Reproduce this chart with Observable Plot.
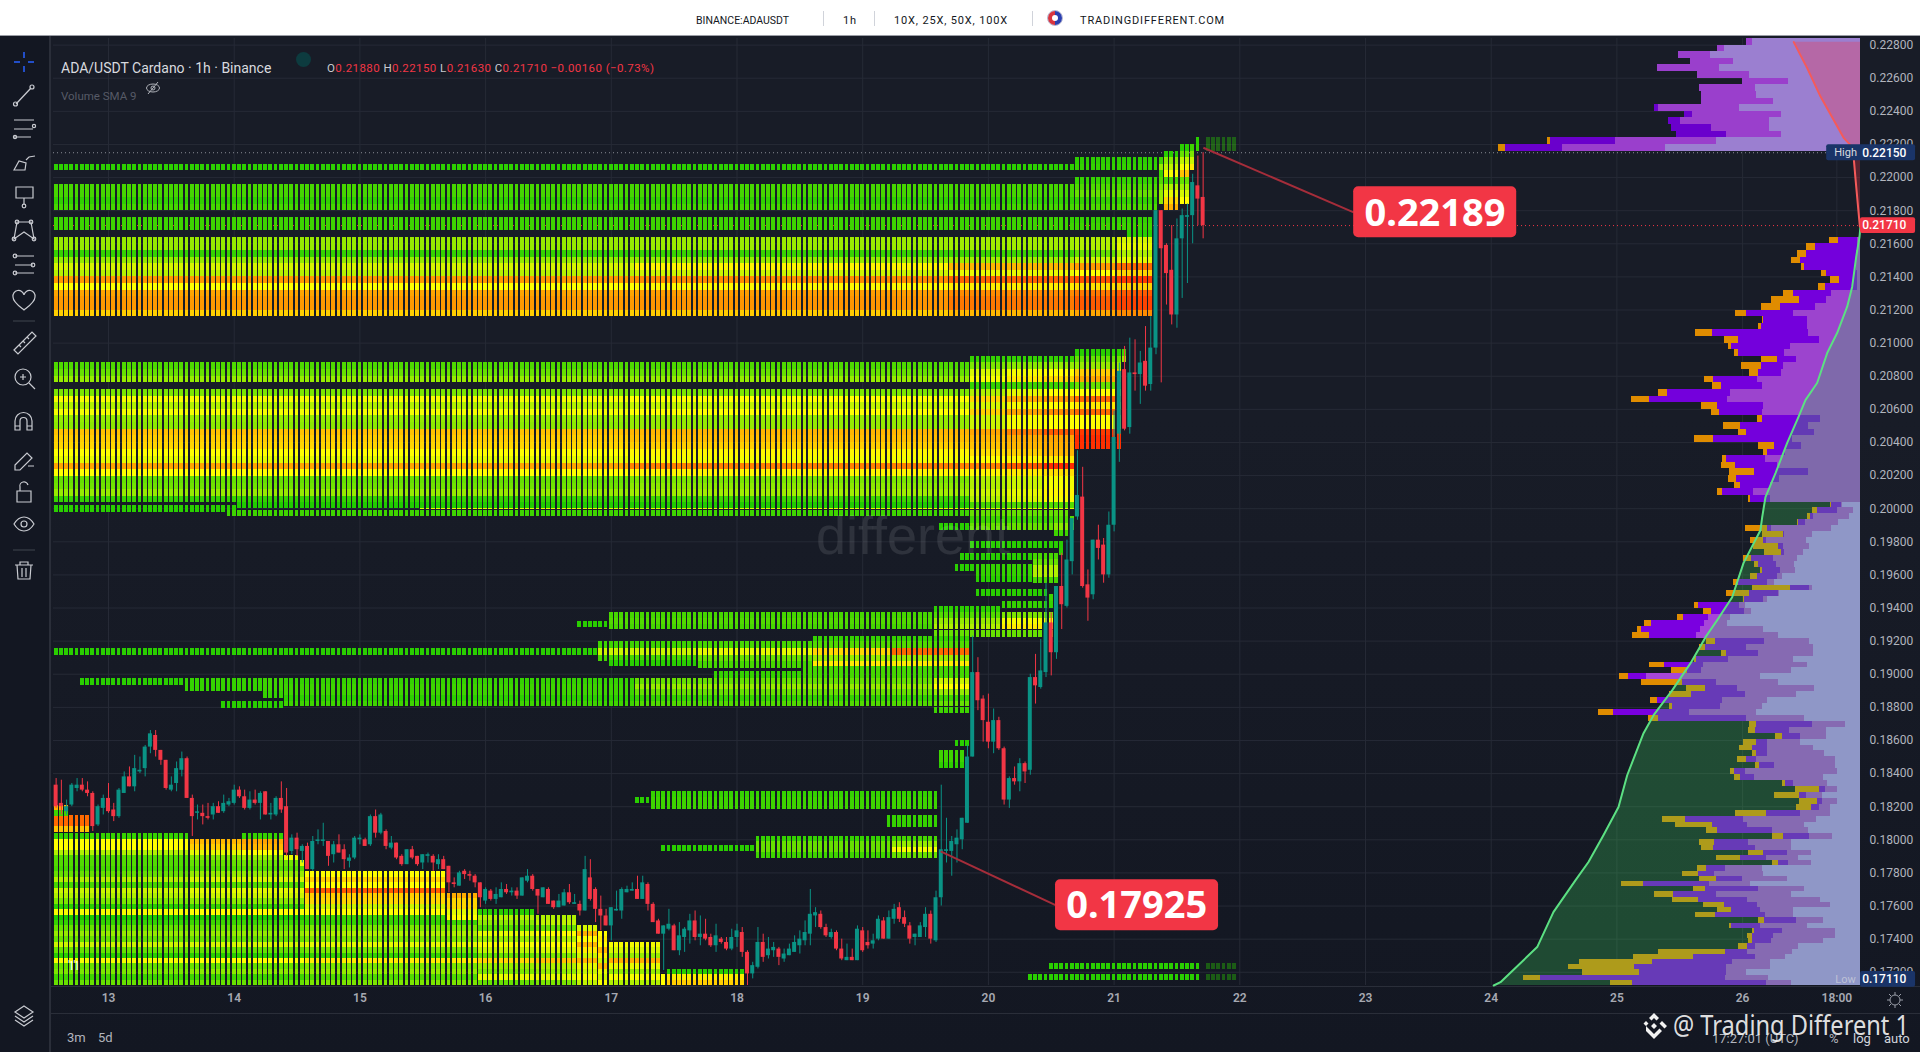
<!DOCTYPE html>
<html><head><meta charset="utf-8">
<script src="https://cdn.jsdelivr.net/npm/d3@7"></script>
<script src="https://cdn.jsdelivr.net/npm/@observablehq/plot@0.6"></script>
<style>
html,body{margin:0;padding:0;width:1920px;height:1052px;overflow:hidden;background:linear-gradient(#181c27 0,#181c27 40%,#131722 100%);font-family:Roboto,sans-serif}
.abs{position:absolute;white-space:nowrap}
#head{left:0;top:0;width:1920px;height:35px;background:#fff;border-bottom:1px solid #9a9da5;z-index:5}
#head span{position:absolute;top:14px;font-size:11px;letter-spacing:.85px;color:#131722}
#head i{position:absolute;top:11px;width:1px;height:15px;background:#d0d3da}
#tools{left:0;top:36px;width:37px;height:1016px;background:#131722;z-index:4}
#vsep{left:37px;top:36px;width:14px;height:1016px;background:#131722;border-right:2px solid #2a2e39;box-sizing:border-box;z-index:4}
.hl{left:51px;width:1869px;height:1px;background:#2a2e39;z-index:1}
</style></head><body>
<div class="abs" id="head">
<span style="left:696px;letter-spacing:0;font-size:10.500px">BINANCE:ADAUSDT</span><i style="left:823px"></i>
<span style="left:843px">1h</span><i style="left:874px"></i>
<span style="left:894px">10X, 25X, 50X, 100X</span><i style="left:1032px"></i>
<svg style="position:absolute;left:1047px;top:10px" width="16" height="16" viewBox="0 0 16 16"><circle cx="8" cy="8" r="7.5" fill="#e8e8f4" stroke="#8a8ab0" stroke-width=".6"/><path d="M8 1a7 7 0 0 0 0 14z" fill="#d8343f"/><path d="M8 1a7 7 0 0 1 0 14z" fill="#2a3fb0"/><circle cx="8" cy="8" r="3" fill="#fff"/></svg>
<span style="left:1080px">TRADINGDIFFERENT.COM</span>
</div>
<div class="abs" id="tools"></div>
<div class="abs" id="vsep"></div>
<div class="abs hl" style="top:986px"></div>
<div class="abs hl" style="top:1013px"></div>
<svg class="abs" style="left:0;top:0;z-index:6" width="48" height="1052" fill="none" stroke="#c9cbd1" stroke-width="1.2">
<path d="M24 52v6M24 66v6M14 62h6M28 62h6" stroke="#2962ff" stroke-width="1.5"/>
<path d="M16 104L31 88"/><circle cx="15.500" cy="104" r="2"/><circle cx="32" cy="87" r="2"/>
<path d="M14 120h20M14 129h19M14 137h17"/><circle cx="34" cy="126" r="1.6"/><circle cx="15" cy="137" r="1.6"/>
<path d="M14 170l5-9 7 2-1 7zM26 160l3-3 6-1"/>
<path d="M16 187h17v11H16zM24 198v6"/><circle cx="24" cy="206" r="1.8"/>
<path d="M17 222l-3 17 10-7 10 7-3-17zM17 222l14 0"/><circle cx="17" cy="222" r="1.8"/><circle cx="31" cy="222" r="1.8"/><circle cx="14" cy="239" r="1.8"/><circle cx="34" cy="239" r="1.8"/>
<path d="M15 256h19M15 265h18M15 273h19"/><circle cx="15" cy="256" r="1.8"/><circle cx="33" cy="265" r="1.8"/><circle cx="15" cy="273" r="1.8"/>
<path d="M24 310c-5-4-11-8-11-13a5.500 5.500 0 0 1 11-2a5.500 5.500 0 0 1 11 2c0 5-6 9-11 13z"/>
<path d="M13 321h22" stroke="#3a3e49"/>
<path d="M14 350l18-18 4 4-18 18zM19 345l2 2M23 341l2 2M27 337l2 2"/>
<circle cx="23" cy="377" r="8"/><path d="M29 383l6 6M20 377h6M23 374v6"/>
<path d="M15 430v-9a8 8 0 0 1 17 0v9h-5v-9a3 3 0 0 0-7 0v9zM15 426h5M27 426h5"/>
<path d="M15 465l12-12 5 5-12 12h-5zM28 466h6"/>
<path d="M17 491h14v11H17zM20 491v-4a4 4 0 0 1 8-2"/>
<path d="M14 524c3-5 7-7 10-7s7 2 10 7c-3 5-7 7-10 7s-7-2-10-7z"/><circle cx="24" cy="524" r="3"/>
<path d="M13 550h22" stroke="#3a3e49"/>
<path d="M15 565h18M20 565v-3h8v3M17 565l1 14h12l1-14M22 568v9M26 568v9"/>
<path d="M24 1006l9 6-9 6-9-6zM15 1016l9 6 9-6M15 1020l9 6 9-6"/>
</svg>
<div class="abs" style="left:61px;top:60px;font-size:14px;color:#d8dadf;z-index:6">ADA/USDT Cardano · 1h · Binance</div>
<div class="abs" style="left:296px;top:52px;width:15px;height:15px;border-radius:50%;background:#0d3b3f;z-index:6"></div>
<div class="abs" style="left:327px;top:61px;font-size:11.500px;letter-spacing:.42px;color:#f23645;z-index:6"><span style="color:#c8cad0">O</span>0.21880 <span style="color:#c8cad0">H</span>0.22150 <span style="color:#c8cad0">L</span>0.21630 <span style="color:#c8cad0">C</span>0.21710 −0.00160 (−0.73%)</div>
<div class="abs" style="left:61px;top:89px;font-size:11.500px;color:#565a66;z-index:6">Volume SMA 9</div>
<svg class="abs" style="left:145px;top:80px;z-index:6" width="16" height="16" fill="none" stroke="#b0b3ba" stroke-width="1"><ellipse cx="8" cy="8" rx="6.500" ry="4"/><circle cx="8" cy="8" r="2"/><path d="M3 14L13 2"/></svg>
<div class="abs" style="left:67px;top:1030px;font-size:13px;color:#b2b5be;z-index:6">3m</div>
<div class="abs" style="left:98px;top:1030px;font-size:13px;color:#b2b5be;z-index:6">5d</div>
<div class="abs" style="left:1712px;top:1031px;font-size:13px;color:#b2b5be;z-index:6">17:27:01 (UTC)</div>
<div class="abs" style="left:1829px;top:1031px;font-size:13px;color:#b2b5be;z-index:6">%</div>
<div class="abs" style="left:1853px;top:1031px;font-size:13px;color:#d1d4dc;z-index:6">log</div>
<div class="abs" style="left:1884px;top:1031px;font-size:13px;color:#d1d4dc;z-index:6">auto</div>
<svg class="abs" style="left:1884px;top:990px;z-index:6" width="22" height="20" fill="none" stroke="#9a9ea8" stroke-width="1"><circle cx="11" cy="10" r="5"/><path d="M11 2v3M11 15v3M3 10h3M16 10h3M5 4l2 2M15 14l2 2M5 16l2-2M15 6l2-2"/></svg>
<svg class="abs" style="left:1640px;top:1012px;z-index:7" width="28" height="28" fill="#f2f2f2"><path d="M14 1l5 5-2.500 2.500L14 6 11.500 8.500 9 6zM6 9l2.500 2.500L6 14l-2.500-2.500 0 0L1 14l2.500-2.500zM22 9l5 5-2.500 2.500L22 14l-2.500-2.500zM14 11l3 3-3 3-3-3zM6 14l2.500 2.500L11.500 19.500 14 22l2.500-2.500 3-3L22 19l-8 8-8-8z"/></svg>
<svg class="abs" style="left:1670px;top:1008px;z-index:7" width="245" height="36"><text x="3" y="27" font-size="27" font-family="Noto Sans" fill="#f2f2f2" fill-opacity=".93" textLength="236" lengthAdjust="spacingAndGlyphs">@ Trading Different 1</text></svg>
<div id="chart" class="abs" style="left:0;top:0;z-index:2"></div>
<script>
// ---- price axis and time axis ----
const priceTicks = d3.range(86, 115).map(i => i * 0.002);
const dayTicks = [13,14,15,16,17,18,19,20,21,22,23,24,25,26,26.75];
const dayDomain = [12.5624, 26.938];
const priceDomain = [0.1712, 0.2284];

// ---- candles, hourly from hour -10 of day 13, in units of 0.0001 ----
const firstHour = -10;
const candleHigh = [1837,1836,1824,1834,1837,1837,1835,1829,1821,1827,
1834,1822,1831,1841,1844,1851,1850,1857,1866,1866,
1854,1848,1838,1847,1853,1850,1827,1821,1821,1822,
1822,1823,1827,1825,1833,1832,1830,1829,1830,1829,
1829,1822,1826,1835,1831,1803,1804,1797,1798,1802,
1806,1810,1799,1799,1803,1797,1791,1802,1803,1801,
1815,1818,1816,1806,1802,1798,1791,1794,1796,1790,
1791,1792,1791,1791,1790,1784,1777,1781,1782,1781,
1779,1774,1771,1770,1771,1774,1773,1771,1771,1777,
1782,1779,1770,1771,1771,1763,1767,1770,1773,1767,
1763,1790,1788,1771,1766,1758,1759,1769,1771,1772,
1774,1778,1778,1774,1762,1752,1748,1758,1749,1750,
1747,1755,1757,1754,1752,1743,1749,1741,1741,1746,
1749,1747,1733,1726,1747,1743,1741,1738,1735,1734,
1737,1742,1745,1751,1770,1759,1757,1749,1746,1745,
1740,1737,1734,1748,1747,1745,1743,1754,1753,1757,
1761,1762,1757,1750,1743,1750,1759,1757,1769,1833,
1813,1802,1806,1813,1857,1923,1910,1887,1888,1879,
1874,1856,1838,1844,1849,1847,1900,1912,1921,1955,
1937,1953,1973,1981,1994,2035,2025,1963,1981,1990,
1982,1998,2059,2088,2098,2103,2102,2095,2110,2116,
2180,2180,2160,2171,2175,2181,2184,2202,2213,2215];
const candleLow = [1819,1815,1815,1820,1829,1829,1826,1805,1808,1815,
1816,1811,1813,1828,1832,1829,1840,1838,1852,1850,
1845,1830,1829,1829,1838,1825,1802,1812,1809,1812,
1812,1816,1816,1820,1821,1825,1818,1818,1821,1812,
1815,1812,1814,1816,1790,1791,1790,1786,1782,1781,
1797,1796,1784,1786,1792,1782,1783,1788,1797,1796,
1796,1801,1803,1794,1794,1788,1784,1785,1788,1784,
1782,1786,1781,1782,1782,1768,1771,1772,1776,1775,
1771,1759,1761,1763,1761,1765,1767,1766,1764,1766,
1774,1769,1755,1765,1761,1758,1759,1760,1761,1761,
1754,1757,1763,1750,1745,1748,1739,1757,1752,1768,
1769,1764,1764,1757,1750,1743,1721,1745,1733,1730,
1732,1737,1739,1736,1739,1735,1732,1737,1733,1733,
1735,1729,1712,1716,1722,1726,1728,1729,1724,1726,
1730,1732,1731,1736,1736,1747,1746,1741,1740,1733,
1727,1727,1727,1727,1732,1734,1734,1739,1740,1740,
1749,1750,1747,1737,1736,1741,1741,1737,1738,1760,
1786,1778,1786,1794,1810,1850,1878,1859,1855,1852,
1854,1821,1819,1833,1829,1834,1839,1882,1891,1898,
1899,1909,1927,1940,1960,1993,1952,1932,1945,1969,
1955,1958,1986,2028,2047,2045,2071,2063,2071,2071,
2093,2076,2123,2111,2109,2127,2136,2160,2171,2163];
const candleOpen = [1833,1822,1817,1821,1831,1833,1830,1828,1809,1819,
1825,1818,1814,1828,1838,1832,1841,1843,1856,1863,
1854,1848,1830,1834,1842,1849,1825,1816,1816,1814,
1815,1820,1817,1821,1822,1830,1826,1819,1824,1822,
1829,1815,1815,1825,1820,1793,1801,1793,1796,1782,
1799,1799,1799,1791,1797,1794,1787,1789,1800,1800,
1797,1814,1804,1805,1795,1798,1790,1785,1794,1790,
1786,1790,1790,1785,1788,1784,1774,1772,1781,1779,
1778,1774,1763,1769,1764,1765,1770,1768,1769,1766,
1775,1778,1770,1765,1770,1763,1759,1760,1768,1761,
1761,1757,1777,1770,1758,1754,1748,1757,1757,1768,
1769,1770,1764,1773,1761,1751,1743,1746,1748,1733,
1741,1745,1751,1741,1743,1741,1736,1740,1738,1734,
1741,1744,1732,1719,1723,1738,1730,1733,1734,1728,
1730,1732,1736,1739,1743,1754,1755,1747,1741,1744,
1734,1727,1729,1727,1745,1738,1737,1740,1751,1740,
1752,1759,1753,1748,1741,1741,1747,1755,1739,1765,
1793,1793,1797,1800,1810,1850,1901,1885,1871,1859,
1872,1855,1824,1837,1835,1846,1842,1898,1892,1901,
1931,1913,1953,1941,1968,1995,2007,1954,1948,1981,
1978,1960,1990,2045,2084,2049,2082,2081,2089,2075,
2097,2180,2159,2144,2117,2163,2176,2177,2195,2188];
const candleClose = [1820,1820,1820,1833,1833,1830,1828,1808,1820,1825,
1817,1814,1830,1838,1832,1843,1842,1856,1864,1854,
1848,1831,1833,1843,1849,1825,1814,1816,1814,1813,
1820,1816,1822,1823,1830,1826,1819,1824,1822,1828,
1815,1816,1825,1818,1792,1801,1794,1796,1782,1799,
1799,1799,1790,1797,1792,1788,1789,1801,1801,1796,
1814,1804,1815,1796,1798,1789,1785,1794,1789,1785,
1791,1791,1786,1788,1782,1774,1773,1780,1779,1778,
1774,1765,1770,1764,1767,1770,1768,1769,1766,1777,
1778,1770,1766,1771,1761,1759,1763,1768,1762,1762,
1757,1782,1764,1758,1754,1748,1759,1758,1770,1770,
1770,1764,1774,1761,1750,1743,1748,1749,1733,1742,
1746,1751,1741,1743,1740,1736,1742,1738,1734,1741,
1745,1732,1719,1724,1738,1729,1734,1735,1729,1731,
1734,1738,1740,1744,1755,1756,1747,1742,1744,1734,
1728,1729,1727,1746,1733,1736,1739,1752,1740,1753,
1758,1752,1749,1740,1743,1748,1755,1740,1765,1794,
1794,1799,1801,1813,1850,1901,1884,1872,1859,1872,
1855,1824,1837,1835,1846,1841,1898,1893,1902,1931,
1913,1953,1942,1969,1994,2008,1953,1946,1981,1976,
1960,1990,2043,2083,2048,2082,2081,2088,2074,2097,
2180,2157,2142,2117,2163,2177,2177,2197,2187,2171];

// ---- liquidity heat map: [fromHour, toHour, topPrice, levels top to bottom, rowStep?] ----
const heatUpper = [
[-10,184,.2208,[.06]],
[-10,184,.2196,[.12,.12,.07,.12]],
[-10,183,.2176,[.1,.1]],
[-10,100,.2164,[.3,.3,.08,.3,.42,.36,.75,.5,.72,.75,.75,.62]],
[101,160,.2164,[.31,.31,.09,.3,.52,.4,.78,.52,.74,.76,.76,.63]],
[161,184,.2164,[.32,.32,.1,.32,.68,.46,.86,.55,.78,.82,.82,.68]],
[185,192,.2164,[.35,.35,.2,.4,.75,.5,.9,.58,.82,.88,.88,.72]],
[193,199,.2164,[.42,.45,.35,.45,.85,.6,.95,.62,.88,.93,.93,.78]],
[185,200,.2212,[.06,.08]],
[185,200,.2200,[.08,.14,.2,.08,.14]],
[184,199,.2176,[.08,.1]],
[195,199,.2168,[.05]],
[201,201,.2212,[.1,.3,.1,.15,.25,.3,.3]],
[202,204,.2216,[.05,.28,.38,.48,.12,.35,.45,.6,.7]],
[205,206,.2220,[.05,.2,.38,.48,.65,.2,.32,.42,.5]],
[207,207,.2220,[.1,.25,.4,.55]],
[208,208,.2224,[.05,.08]]
];
const heatMiddle = [
[-10,164,.2088,[.14,.2,.3]],
[-10,99,.2072,[.25,.48,.35,.48,.3,.28,.65,.62,.6]],
[100,164,.2072,[.25,.5,.38,.5,.3,.3,.68,.66,.62]],
[165,171,.2092,[.08,.25,.42,.48,.08,.35,.6,.42,.62,.4,.4,.72,.68,.65]],
[172,178,.2092,[.08,.28,.48,.55,.1,.45,.7,.48,.72,.48,.48,.8,.7,.68]],
[179,184,.2092,[.08,.3,.5,.6,.1,.5,.75,.5,.78,.5,.5,.88,.72,.7]],
[185,193,.2096,[.05,.2,.3,.62,.72,.2,.5,.85,.55,.85,.5,.5,.95,.98,.97]],
[194,194,.2096,[.1,.3]],
[-10,99,.20355,[.5,.45,.72,.5,.2,.22,.3,.08]],
[100,164,.20355,[.52,.48,.8,.52,.25,.28,.32,.1]],
[165,171,.20355,[.58,.5,.8,.52,.35,.35,.4,.35,.12]],
[172,178,.20355,[.62,.52,.88,.55,.4,.4,.45,.42,.14]],
[179,184,.20355,[.68,.55,.98,.58,.48,.48,.52,.48,.15]],
[25,164,.2004,[.03]],
[-10,24,.2002,[.05]],
[23,164,.1999,[.1]],
[60,184,.2000,[.45],.00007],
[165,183,.1999,[.2]],
[159,164,.1991,[.05]],
[165,180,.1995,[.1,.2]],
[181,184,.1995,[.15,.28]],
[181,183,.1987,[.1]],
[165,182,.1980,[.05]],
[182,182,.1976,[.06]],
[163,176,.1973,[.05]],
[177,181,.1973,[.12,.2,.35,.35,.12],.00036],
[162,165,.1966,[.05]],
[166,176,.1966,[.08,.08,.05],.00036],
[166,179,.1951,[.05]],
[180,180,.1948,[.1]],
[171,180,.1944,[.08]],
[158,170,.1941,[.06]],
[90,95,.1932,[.05]],
[96,157,.1937,[.12,.15,.12],.00034],
[158,170,.1937,[.15,.3,.35],.00034],
[171,180,.1937,[.25,.48,.55],.00034],
[158,180,.19262,[.2]],
[135,164,.19226,[.08]],
[-10,93,.19155,[.05]],
[94,112,.19195,[.1,.4,.12]],
[96,112,.19085,[.05]],
[113,134,.19195,[.12,.45,.2,.12]],
[135,149,.19195,[.15,.6,.3,.55]],
[150,164,.19195,[.15,.85,.3,.55]],
[116,132,.19014,[.08]],
[133,164,.19048,[.12,.12]],
[-5,14,.18974,[.05]],
[15,29,.18974,[.08,.08]],
[30,33,.18974,[.1,.1,.08]],
[34,100,.18974,[.08,.1,.1,.06,.1],.00034],
[101,157,.18974,[.2,.3,.2,.08,.15],.00034],
[158,164,.18974,[.4,.5,.3,.1,.2],.00034],
[158,164,.1880,[.1]],
[22,33,.18833,[.05]]
];
const heatLower = [
[162,164,.18601,[.05]],
[159,163,.18541,[.1,.1,.06],.00036],
[101,103,.18257,[.05]],
[104,158,.18293,[.08,.1,.1],.00036],
[149,158,.18148,[.08,.08],.00036],
[124,149,.18021,[.08,.2,.2,.1],.00033],
[150,158,.18021,[.12,.3,.48,.2],.00033],
[106,123,.17967,[.05]],
[180,208,.17253,[.05],.00036],
[176,208,.17187,[.05],.00036],
[-10,-4,.18144,[.85,.85,.65],.000327],
[-10,-8,.18209,[.7,.1],.000327]
];
// bottom block: levels hang off the chart floor, index 0 is the 28th row above it
const floorPrice = .1712, floorStep = .000327;
const heatFloor = [
[-10,15,0,[.08,.5,.5,.35,.15,.15,.12,.2,.35,.12,.4,.35,.25,.05,.48,.02,.08,.2,.3,.2,.4,.2,.05,.48,.2,.25,.1,.2]],
[16,25,1,[.68,.62,.45,.25,.2,.15,.3,.42,.15,.45,.4,.28,.08,.5,.03,.1,.2,.3,.2,.42,.2,.05,.5,.2,.28,.1,.2]],
[26,33,0,[.08,.72,.68,.5,.3,.22,.16,.3,.42,.15,.45,.4,.28,.08,.5,.03,.1,.2,.3,.2,.42,.2,.05,.5,.2,.28,.1,.2]],
[34,36,4,[.45,.22,.16,.3,.42,.15,.45,.4,.28,.08,.5,.03,.1,.2,.3,.2,.42,.2,.05,.5,.2,.28,.1,.2]],
[37,37,5,[.45,.16,.3,.42,.15,.45,.4,.28,.08,.5,.03,.1,.2,.3,.2,.42,.2,.05,.5,.2,.28,.1,.2]],
[38,64,7,[.5,.62,.5,.88,.62,.6,.4,.5,.1,.08,.25,.35,.25,.45,.25,.08,.55,.25,.3,.15,.25]],
[65,70,11,[.7,.6,.6,.45,.5,.1,.25,.35,.25,.45,.25,.08,.55,.25,.3,.15,.25]],
[71,81,14,[.05,.35,.28,.15,.45,.3,.48,.38,.2,.6,.3,.25,.45,.2]],
[82,89,15,[.35,.38,.2,.5,.35,.5,.42,.25,.65,.35,.3,.45,.25]],
[90,93,17,[.42,.7,.5,.68,.55,.4,.68,.45,.4,.48,.38]],
[94,95,18,[.5,.55,.5,.68,.55,.4,.68,.45,.4,.48]],
[96,105,20,[.48,.42,.3,.7,.45,.3,.48,.35]],
[106,106,26,[.5,.5]],
[107,121,25,[.05,.55,.62]]
];
const heatGhost = [[210,215,.2224,[.05,.08]],[210,215,.17253,[.05],.00036],[210,215,.17187,[.05],.00036]];

// ---- volume profile, rows top to bottom: [left of orange, of deep, of mid, of light], volume units from the right edge ----
const profileUnitsPerDay = 125.7;
const profileUpperTop = .2284, profileUpperStep = .0004;
const profileUpper = [[114,114,114,108],[143,143,143,136],[182,182,182,150],[170,170,170,127],[203,203,203,141],[163,163,163,111],[118,118,118,72],[161,161,161,105],[159,159,159,104],[159,159,159,87],[206,206,202,121],[176,176,168,79],[192,192,180,91],[189,189,149,91],[184,184,134,79],[313,310,245,144],[362,355,298,195]];
const profileMiddleTop = .2164, profileMiddleStep = .0004;
const profileMiddle = [[31,22,3,0],[54,45,3,0],[63,54,4,0],[69,60,4,0],[59,56,4,0],[39,34,3,0],[30,21,3,0],[42,35,3,0],[77,67,29,0],[89,61,34,0],[99,80,45,0],[125,114,67,0],[98,97,53,0],[102,99,53,0],[165,148,52,0],[136,122,41,0],[132,129,70,0],
[126,122,76,0],[99,83,64,0],[119,99,77,0],[111,102,79,0],[156,147,103,0],[148,139,98,0],[202,193,130,0],[229,211,133,0],[159,143,97,0],[149,141,98,0],[103,98,40,0],[137,120,52,0],[122,114,46,0],[166,147,68,0],[102,86,59,0],[97,93,75,0],[138,134,95,0],[139,125,83,0],[131,106,52,0],[132,124,81,0],[126,120,90,0],[143,138,107,0],[112,110,90,0]];
const profileLowerTop = .2004, profileLowerBottom = .1800;
const profileLower = [[30,29,19,18],[48,43,23,7],[53,50,47,11],[63,62,55,22],[115,93,89,29],[98,77,76,48],
[110,97,94,54],[107,82,77,51],[96,79,76,57],[117,109,87,63],[106,102,84,66],[100,98,80,65],[110,103,83,78],[127,122,93,86],[108,70,51,48],[134,111,82,81],[117,116,97,93],[166,162,121,115],[157,149,116,109],[183,177,152,130],[216,209,156,133],[223,219,160,97],[228,211,164,82],[154,145,96,51],[161,155,114,47],[139,134,102,47],[166,164,132,67],[211,196,157,53],[189,173,159,69],[241,232,214,100],[219,178,144,82],[174,155,123,46],[191,169,115,64],[210,203,138,93],[191,188,140,98],[262,247,171,104],[212,202,114,56],[111,104,48,15],
[112,105,71,34],[85,78,60,34],[117,104,93,60],[121,108,93,47],[108,104,93,36],[123,114,104,25],[105,101,86,25],[130,126,115,23],[126,120,106,37],[78,75,67,33],[65,41,35,23],[86,61,54,38],[61,43,38,23],[64,49,41,30],[125,94,60,30],[198,175,117,44],[185,148,113,56],[154,143,88,52],[88,77,51,28]];
const profileFloorTop = .1800, profileFloorBottom = .1712;
const profileFloor = [[161,146,112,69],[159,147,105,69],[112,97,73,49],[144,120,94,62],[88,82,72,49],[163,154,135,98],[178,162,146,97],[161,144,118,73],[239,217,151,110],[167,155,102,56],[206,187,144,69],[188,162,113,40],[157,136,103,30],[143,129,100,67],[165,145,95,67],[102,96,64,37],[131,129,100,53],[108,106,78,25],[113,108,87,25],[112,108,89,37],[122,113,105,62],[202,135,113,68],[227,167,105,75],[281,208,128,90],[292,226,134,90],[278,221,134,114],[337,320,135,92],[250,228,94,69]];

// ---- overlay lines: day, price ----
const upLineDay = [26.938,26.930,26.904,26.872,26.832,26.752,26.673,26.593,26.500,26.444,26.354,26.262,26.182,26.156,26.142,26.007,25.917,25.798,25.705,25.586,25.441,25.292,25.212,25.082,25.013,24.893,24.774,24.670,24.495,24.366,24.074,24.02];
const upLinePrice = [.21710,.21641,.21522,.21341,.21220,.21061,.20940,.20759,.20656,.20553,.20396,.20215,.20070,.19949,.19870,.19671,.19465,.19327,.19224,.19067,.18904,.18753,.18644,.18390,.18198,.18027,.17866,.17755,.17563,.17352,.17140,.1712];
const downLineDay = [26.407,26.514,26.620,26.806,26.877,26.899,26.933];
const downLinePrice = [.22818,.22661,.22489,.22238,.22181,.21986,.21704];

// ---- annotations ----
const callouts = [
 {label:"0.22189", d1:22.906, d2:24.203, p1:.21636, p2:.21944, fromDay:21.71, fromPrice:.2218, day:23.553, price:.2178},
 {label:"0.17925", d1:20.534, d2:21.831, p1:.17451, p2:.17759, fromDay:19.62, fromPrice:.1793, day:21.18, price:.1760}
];
const priceTags = [
 {label:"0.22150", price:.2215, fill:"#1a3468", fromDay:26.669},
 {label:"0.21710", price:.2171, fill:"#f23645", fromDay:26.938},
 {label:"0.17110", price:.17157, fill:"#1a3468", fromDay:26.938}
];
const tagEndDay = 27.376, tagHalf = .00048;
const priceLines = [{price:.2215, stroke:"#8a8d96"},{price:.2171, stroke:"#f23645"}];
const sideNotes = [{label:"High", day:26.91, price:.2215, opacity:1},{label:"Low", day:26.9, price:.17157, opacity:.65}];

// ---- build ----
const dayOf = h => 13 + h / 24;
const colHalf = .36;
function expand(blocks, out){
  for (const [a,b,top,levels,step=.0004] of blocks)
    for (let h=a;h<=b;h++) levels.forEach((v,i)=>out.push({h,p2:top-i*step,p1:top-(i+1)*step,v}));
  return out;
}
const heat = expand(heatUpper.concat(heatMiddle,heatLower),[]);
for (const [a,b,idx,levels] of heatFloor)
  for (let h=a;h<=b;h++) levels.forEach((v,i)=>{const r=28-idx-i;heat.push({h,p2:floorPrice+r*floorStep,p1:floorPrice+(r-1)*floorStep,v})});
const ghost = expand(heatGhost,[]);

const right = dayDomain[1];
const bars = [];
function addProfile(rows,top,step,pal){
  rows.forEach((r,i)=>{
    const p2=top-i*step,p1=top-(i+1)*step,[o,d,m,l]=r;
    [[o,d,pal[0]],[d,m,pal[1]],[m,l,pal[2]],[l,0,pal[3]]].forEach(([w1,w2,c])=>{
      if(w1>w2) bars.push({x1:right-w1/profileUnitsPerDay,x2:right-w2/profileUnitsPerDay,p1,p2,c});
    });
  });
}
const palTop=["#d98a00","#6a00cc","#9a3fcc","#9b7fd0"], palMid=["#e08c00","#7400dc","#9c44ce","#b386f7"], palLow=["#e08c00","#7a00e0","#a646d8","#b386f7"];
addProfile(profileUpper,profileUpperTop,profileUpperStep,palTop);
addProfile(profileMiddle,profileMiddleTop,profileMiddleStep,palMid);
addProfile(profileLower,profileLowerTop,(profileLowerTop-profileLowerBottom)/profileLower.length,palLow);
addProfile(profileFloor,profileFloorTop,(profileFloorTop-profileFloorBottom)/profileFloor.length,palLow);

const candles = candleHigh.map((hi,i)=>{
  const o=candleOpen[i]/1e4,c=candleClose[i]/1e4;
  const top=Math.max(o,c),bot=Math.min(o,c);
  const thick=Math.max(top-bot,.00009);
  return {h:firstHour+i,hi:hi/1e4,lo:candleLow[i]/1e4,top:bot+thick,bot,col:c>=o?"#0a9385":"#f23645"};
});
const upLine = upLineDay.map((day,i)=>({day,price:upLinePrice[i]}));
const downLine = downLineDay.map((day,i)=>({day,price:downLinePrice[i]}));
const wm = [{t:"different",day:19.4,price:.19828}];
const corner = [{t:"'I'I",day:12.72,price:.17235}];

const chart = Plot.plot({
  width:1920,height:1052,marginLeft:53,marginRight:60,marginTop:38,marginBottom:67,
  style:{background:"transparent",fontFamily:"Roboto, sans-serif",overflow:"visible"},
  x:{domain:dayDomain},y:{domain:priceDomain},
  color:{type:"linear",domain:[0,.25,.5,.75,1],range:["#14c800","#7ce600","#ffff00","#ff9900","#ff2200"],interpolate:"rgb"},
  marks:[
    Plot.ruleY(priceTicks.filter(p=>p>priceDomain[0]&&p<priceDomain[1]),{stroke:"#262a36",strokeWidth:1}),
    Plot.ruleX(dayTicks,{stroke:"#262a36",strokeWidth:1}),
    Plot.rect(bars,{x1:"x1",x2:"x2",y1:"p1",y2:"p2",fill:{value:d=>d.c,scale:null},shapeRendering:"crispEdges"}),
    Plot.areaX(upLine,{x1:"day",x2:()=>right,y:"price",fill:"#3bc15a",fillOpacity:.3}),
    Plot.areaX(downLine,{x1:"day",x2:()=>right,y:"price",fill:"#f23645",fillOpacity:.3}),
    Plot.line(upLine,{x:"day",y:"price",stroke:"#5ce083",strokeWidth:2}),
    Plot.line(downLine,{x:"day",y:"price",stroke:"#f55a5a",strokeWidth:2}),
    Plot.ruleY(priceLines,{y:"price",x1:dayDomain[0],x2:right,stroke:"stroke",strokeWidth:1,strokeDasharray:"1 3"}),
    Plot.rect(heat,{x1:d=>dayOf(d.h-colHalf),x2:d=>dayOf(d.h+colHalf),y1:"p1",y2:"p2",fill:"v",shapeRendering:"crispEdges"}),
    Plot.rect(ghost,{x1:d=>dayOf(d.h-colHalf),x2:d=>dayOf(d.h+colHalf),y1:"p1",y2:"p2",fill:"v",fillOpacity:.38,shapeRendering:"crispEdges"}),
    Plot.text(wm,{x:"day",y:"price",text:"t",fontSize:54,fontFamily:"Liberation Sans",fill:"#ffffff",fillOpacity:.1}),
    Plot.text(corner,{x:"day",y:"price",text:"t",fontSize:12,fill:"#ffffff"}),
    Plot.ruleX(candles,{x:d=>dayOf(d.h),y1:"lo",y2:"hi",stroke:"col",strokeWidth:1}),
    Plot.rect(candles,{x1:d=>dayOf(d.h-.38),x2:d=>dayOf(d.h+.38),y1:"bot",y2:"top",fill:"col"}),
    Plot.link(callouts,{x1:"fromDay",y1:"fromPrice",x2:"d1",y2:d=>(d.p1+d.p2)/2,stroke:"#a52d3a",strokeWidth:2}),
    Plot.rect(callouts,{x1:"d1",x2:"d2",y1:"p1",y2:"p2",fill:"#f23645",rx:5}),
    Plot.text(callouts,{x:"day",y:"price",text:"label",fontSize:38,fontWeight:700,fontFamily:"Noto Sans",fill:"#ffffff"}),
    Plot.axisY({anchor:"right",ticks:priceTicks,tickFormat:d3.format(".5f"),tickSize:0,tickPadding:9,label:null,fontSize:12,color:"#b2b5be"}),
    Plot.axisX({anchor:"bottom",ticks:dayTicks,tickFormat:d=>d===26.75?"18:00":String(d),tickSize:0,tickPadding:8,label:null,fontSize:12,fontWeight:600,color:"#a6a9b2"}),
    Plot.rect(priceTags,{x1:"fromDay",x2:()=>tagEndDay,y1:d=>d.price-tagHalf,y2:d=>d.price+tagHalf,fill:"fill",rx:2}),
    Plot.text(priceTags,{x:()=>(right+tagEndDay)/2-.03,y:"price",text:"label",fontSize:12,fontWeight:500,fill:"#ffffff"}),
    Plot.text(sideNotes,{x:"day",y:"price",text:"label",textAnchor:"end",fontSize:11,fill:"#d8dadf",fillOpacity:"opacity"})
  ]
});
document.getElementById("chart").appendChild(chart);
</script>
</body></html>
